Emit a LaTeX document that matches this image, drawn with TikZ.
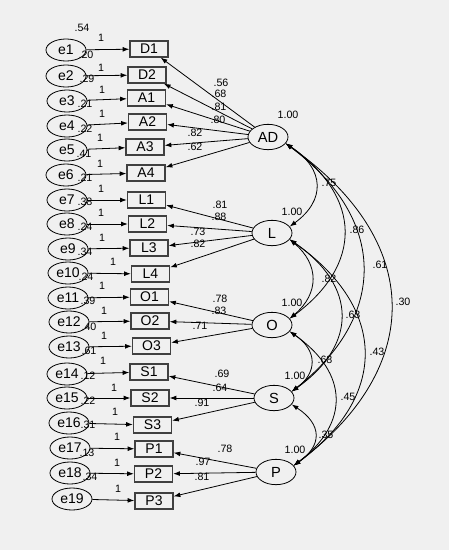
\documentclass[tikz,border=0pt]{standalone}
\usepackage{fontspec}
\setmainfont{Liberation Sans}
\usetikzlibrary{arrows.meta,shapes.geometric}
\definecolor{bg}{RGB}{240,240,240}
\begin{document}
\begin{tikzpicture}[x=0.75pt,y=-0.75pt,
 err/.style={ellipse,draw=black,line width=0.6pt,minimum width=30pt,minimum height=16.5pt,inner sep=0pt,font=\fontsize{10.5}{12}\selectfont},
 obs/.style={rectangle,draw=black!75,line width=1pt,fill=bg,minimum width=28.5pt,minimum height=12pt,inner sep=0pt,font=\fontsize{10.5}{12}\selectfont},
 lat/.style={ellipse,draw=black,line width=0.6pt,minimum width=30pt,minimum height=19pt,inner sep=0pt,font=\fontsize{11}{12}\selectfont},
 num/.style={inner sep=0pt,font=\fontsize{8}{9}\selectfont},
 arr/.style={-{Latex[length=5pt,width=3.6pt]},line width=0.6pt},
 cov/.style={{Latex[length=5pt,width=3.6pt]}-{Latex[length=5pt,width=3.6pt]},line width=0.6pt}]
\fill[bg] (0,0) rectangle (449,550);
\useasboundingbox (0,0) rectangle (449,550);
% error ellipses
\node[err] (e1) at (66,50) {e1};
\node[err] (e2) at (66,76) {e2};
\node[err] (e3) at (67,101) {e3};
\node[err] (e4) at (67,126) {e4};
\node[err] (e5) at (67,150) {e5};
\node[err] (e6) at (66,175) {e6};
\node[err] (e7) at (67,200) {e7};
\node[err] (e8) at (67,224) {e8};
\node[err] (e9) at (68,249) {e9};
\node[err] (e10) at (68,273) {e10};
\node[err] (e11) at (68,298) {e11};
\node[err] (e12) at (69,322) {e12};
\node[err] (e13) at (69,347) {e13};
\node[err] (e14) at (67,374) {e14};
\node[err] (e15) at (67,398) {e15};
\node[err] (e16) at (69,423) {e16};
\node[err] (e17) at (70,448) {e17};
\node[err] (e18) at (70,473) {e18};
\node[err] (e19) at (72,499) {e19};
% observed
\node[obs] (D1) at (149,49) {D1};
\node[obs] (D2) at (147,75) {D2};
\node[obs] (A1) at (146.5,98) {A1};
\node[obs] (A2) at (147.5,122) {A2};
\node[obs] (A3) at (145,147) {A3};
\node[obs] (A4) at (146,173) {A4};
\node[obs] (L1) at (146.5,200) {L1};
\node[obs] (L2) at (147.5,224) {L2};
\node[obs] (L3) at (149,248) {L3};
\node[obs] (L4) at (150.5,274) {L4};
\node[obs] (O1) at (149.5,297) {O1};
\node[obs] (O2) at (150,321) {O2};
\node[obs] (O3) at (151.5,346) {O3};
\node[obs] (S1) at (149,372) {S1};
\node[obs] (S2) at (150,398) {S2};
\node[obs] (S3) at (152.5,425) {S3};
\node[obs] (P1) at (154,449) {P1};
\node[obs] (P2) at (153.5,474) {P2};
\node[obs] (P3) at (154,501) {P3};
% latents
\node[lat] (AD) at (268,137) {AD};
\node[lat] (L) at (272,233) {L};
\node[lat] (O) at (272,325) {O};
\node[lat] (S) at (274,398) {S};
\node[lat] (P) at (276,472) {P};
% error arrows
\foreach \e/\o in {e1/D1,e2/D2,e3/A1,e4/A2,e5/A3,e6/A4,e7/L1,e8/L2,e9/L3,e10/L4,e11/O1,e12/O2,e13/O3,e14/S1,e15/S2,e16/S3,e17/P1,e18/P2,e19/P3}
  \draw[arr] (\e) -- (\o);
% loadings
\foreach \o in {D1,D2,A1,A2,A3,A4} \draw[arr] (AD) -- (\o);
\foreach \o in {L1,L2,L3,L4} \draw[arr] (L) -- (\o);
\foreach \o in {O1,O2,O3} \draw[arr] (O) -- (\o);
\foreach \o in {S1,S2,S3} \draw[arr] (S) -- (\o);
\foreach \o in {P1,P2,P3} \draw[arr] (P) -- (\o);
% covariances
\draw[cov] (AD.-20) .. controls +(39.6,26) and +(35.6,-26) .. (L.20);
\draw[cov] (AD.-20) .. controls +(76.9,54) and +(72.9,-54) .. (O.20);
\draw[cov] (AD.-20) .. controls +(101.9,76) and +(95.9,-76) .. (S.20);
\draw[cov] (AD.-20) .. controls +(138.9,98) and +(130.9,-98) .. (P.20);
\draw[cov] (L.-20) .. controls +(29.6,25) and +(29.6,-25) .. (O.20);
\draw[cov] (L.-20) .. controls +(67.9,47) and +(65.9,-47) .. (S.20);
\draw[cov] (L.-20) .. controls +(98.3,69) and +(94.3,-69) .. (P.20);
\draw[cov] (O.-20) .. controls +(27.9,19) and +(25.9,-19) .. (S.20);
\draw[cov] (O.-20) .. controls +(59.6,42) and +(55.6,-42) .. (P.20);
\draw[cov] (S.-20) .. controls +(30.6,20) and +(28.6,-20) .. (P.20);
% variance labels
\node[num] (v1) at (82,28) {.54};
\node[num] (v2) at (86,55) {.20};
\node[num] (v3) at (87,79) {.29};
\node[num] (v4) at (85,104) {.21};
\node[num] (v5) at (85,129) {.22};
\node[num] (v6) at (84,154) {.41};
\node[num] (v7) at (85,178) {.21};
\node[num] (v8) at (85,202) {.38};
\node[num] (v9) at (85,227) {.24};
\node[num] (v10) at (85,252) {.34};
\node[num] (v11) at (86,277) {.24};
\node[num] (v12) at (88,301) {.39};
\node[num] (v13) at (89,327) {.40};
\node[num] (v14) at (89,351) {.61};
\node[num] (v15) at (88,376) {.12};
\node[num] (v16) at (88,401) {.22};
\node[num] (v17) at (88,425) {.31};
\node[num] (v18) at (87,453) {.13};
\node[num] (v19) at (90,477) {.34};
% "1" labels
\node[num] (w1) at (101,38) {1};
\node[num] (w2) at (101,68) {1};
\node[num] (w3) at (102,90) {1};
\node[num] (w4) at (102,114) {1};
\node[num] (w5) at (100,138) {1};
\node[num] (w6) at (100,164) {1};
\node[num] (w7) at (101,189) {1};
\node[num] (w8) at (101,213) {1};
\node[num] (w9) at (102,238) {1};
\node[num] (w10) at (113,262) {1};
\node[num] (w11) at (102,286) {1};
\node[num] (w12) at (104,311) {1};
\node[num] (w13) at (104,336) {1};
\node[num] (w14) at (103,361) {1};
\node[num] (w15) at (114,388) {1};
\node[num] (w16) at (115,412) {1};
\node[num] (w17) at (117,437) {1};
\node[num] (w18) at (117,463) {1};
\node[num] (w19) at (118,489) {1};
% loading labels
\node[num] (l1) at (221,83) {.56};
\node[num] (l2) at (219,94) {.68};
\node[num] (l3) at (219,107) {.81};
\node[num] (l4) at (218,120) {.80};
\node[num] (l5) at (195,133) {.82};
\node[num] (l6) at (195,147) {.62};
\node[num] (l7) at (220,205) {.81};
\node[num] (l8) at (219,217) {.88};
\node[num] (l9) at (198,232) {.73};
\node[num] (l10) at (198,244) {.82};
\node[num] (l11) at (220,299) {.78};
\node[num] (l12) at (219,311) {.83};
\node[num] (l13) at (200,326) {.71};
\node[num] (l14) at (222,374) {.69};
\node[num] (l15) at (220,388) {.64};
\node[num] (l16) at (202,403) {.91};
\node[num] (l17) at (225,449) {.78};
\node[num] (l18) at (203,462) {.97};
\node[num] (l19) at (202,477) {.81};
% latent variances
\node[num] (u1) at (288,115) {1.00};
\node[num] (u2) at (292,212) {1.00};
\node[num] (u3) at (292,303) {1.00};
\node[num] (u4) at (295,376) {1.00};
\node[num] (u5) at (295,450) {1.00};
% correlation labels
\node[num] (c1) at (329,183) {.75};
\node[num] (c2) at (357,230) {.86};
\node[num] (c3) at (380,265) {.61};
\node[num] (c4) at (403,302) {.30};
\node[num] (c5) at (329,279) {.82};
\node[num] (c6) at (353,315) {.63};
\node[num] (c7) at (377,352) {.43};
\node[num] (c8) at (325,360) {.68};
\node[num] (c9) at (348,397) {.45};
\node[num] (c10) at (326,435) {.35};
\end{tikzpicture}
\end{document}
